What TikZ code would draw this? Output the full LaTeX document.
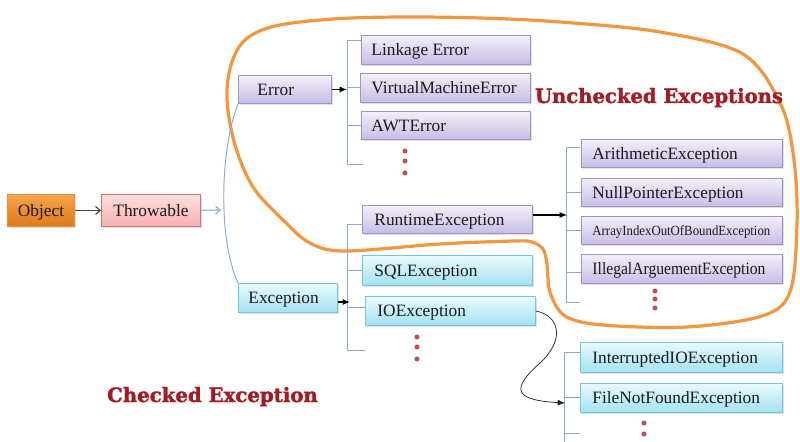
\documentclass[tikz,border=0pt]{standalone}
\usepackage{fontspec}
\setmainfont{Liberation Serif}
\newfontfamily\lblfont[FakeBold=1.6]{DejaVu Serif}
\usepackage{graphicx}
\usetikzlibrary{arrows.meta,shadows}
\newdimen\myu \myu=0.75pt
\newcommand\lt[3]{\hbox to #1\myu{\hskip #2\myu\relax #3\hss}}
\definecolor{ptop}{HTML}{F3EFFA}
\definecolor{pbot}{HTML}{C9BCE6}
\definecolor{pbord}{HTML}{9F92C6}
\definecolor{ctop}{HTML}{E9FAFE}
\definecolor{cbot}{HTML}{A3E2F3}
\definecolor{cbord}{HTML}{78C4DA}
\definecolor{otop}{HTML}{F6A349}
\definecolor{obot}{HTML}{E07A1C}
\definecolor{obord}{HTML}{E59038}
\definecolor{rtop}{HTML}{FFDEDE}
\definecolor{rbot}{HTML}{F8B0B0}
\definecolor{rbord}{HTML}{D27474}
\definecolor{brkc}{HTML}{8CA8CE}
\definecolor{loopc}{HTML}{F2963F}
\definecolor{lblc}{HTML}{A11C24}
\definecolor{dotc}{HTML}{C0504D}
\definecolor{txtc}{HTML}{1A1A1A}
\tikzset{
  base/.style={anchor=north west, inner xsep=0pt, inner ysep=0pt,
    font=\fontsize{13}{15}\selectfont, text=txtc, text height=8.6pt, text depth=0pt,
    line width=0.7pt,
    drop shadow={shadow xshift=0.8pt, shadow yshift=-1.2pt, opacity=0.25}},
  pbox/.style={base, draw=pbord, top color=ptop, bottom color=pbot},
  cbox/.style={base, draw=cbord, top color=ctop, bottom color=cbot},
  obox/.style={base, draw=obord, top color=otop, bottom color=obot},
  rbox/.style={base, draw=rbord, top color=rtop, bottom color=rbot},
  brk/.style={draw=brkc, line width=0.75pt},
  blk/.style={draw=black, line width=0.8pt, -{Latex[length=5.5pt,width=4.5pt]}},
  thinblk/.style={draw=black!85, line width=0.55pt, -{Latex[length=5.5pt,width=4.5pt]}},
  gryarr/.style={draw=black!75, line width=0.8pt, -{Straight Barb[length=3.5pt,width=6pt]}},
  bluarr/.style={draw=brkc, line width=0.8pt, -{Straight Barb[length=3.5pt,width=6pt]}},
  blucurve/.style={draw=brkc, line width=0.7pt},
  loopline/.style={draw=loopc, line width=2.4pt},
  lblnode/.style={inner sep=0pt, text=lblc, anchor=base},
  dotstyle/.style={fill=dotc}
}
\begin{document}
\begin{tikzpicture}[x=0.75pt,y=-0.75pt]
\fill[white] (0,0) rectangle (800,442);
\useasboundingbox (0,0) rectangle (800,442);

% orange loop (unchecked region)
\draw[loopline] plot[smooth cycle, tension=0.55] coordinates {
 (515,241) (440,244) (345,251) (310,243) (283,220) (253,187) (235,145) (227,100)
 (231,65) (245,40) (275,26) (333,19) (400,17) (480,18) (560,22) (660,32) (743,54)
 (781,105) (794,160) (797,225) (790,292) (762,316) (687,327) (603,325) (565,316)
 (550,292) (547,264) (543,249) (532,242)};

% boxes
\node[obox, minimum width=50.25pt, minimum height=24pt] (obj) at (7,194) {Object};
\node[rbox, minimum width=74.25pt, minimum height=24pt] (thr) at (101,194) {Throwable};
\node[pbox, minimum height=21pt] (err) at (238,75) {\lt{93}{19}{Error}};
\node[pbox, minimum height=21.75pt] (link) at (361,35) {\lt{169}{10}{Linkage Error}};
\node[pbox, minimum height=21.75pt] (vm) at (360,73) {\lt{170}{11}{VirtualMachineError}};
\node[pbox, minimum height=21pt] (awt) at (361,111) {\lt{169}{10}{AWTError}};
\node[pbox, minimum height=21pt] (rt) at (362,205) {\lt{170}{12}{RuntimeException}};
\node[cbox, minimum height=21.75pt] (exc) at (238,283) {\lt{99}{10}{Exception}};
\node[cbox, minimum height=22.5pt] (sql) at (362,255) {\lt{170}{12}{SQLException}};
\node[cbox, minimum height=21.75pt] (io) at (365,296) {\lt{170}{12}{IOException}};
\node[pbox, minimum height=21pt] (arith) at (581,139) {\lt{201}{11}{ArithmeticException}};
\node[pbox, minimum height=21pt] (nullp) at (581,178) {\lt{201}{11}{NullPointerException}};
\node[pbox, minimum height=21pt, text height=6.95pt] (arr) at (581,216)
  {\lt{201}{11}{\scalebox{0.915}[1]{\fontsize{10.5}{12}\selectfont ArrayIndexOutOfBoundException}}};
\node[pbox, minimum height=21.75pt] (ill) at (581,254) {\lt{201}{11}{\scalebox{0.9}[1]{IllegalArguementException}}};
\node[cbox, minimum height=22.5pt] (intr) at (580,342) {\lt{202}{12}{InterruptedIOException}};
\node[cbox, minimum height=21.75pt] (fnf) at (580,383) {\lt{202}{12}{FileNotFoundException}};

% bracket coordinates
\coordinate (b1) at (347,41);
\coordinate (b2) at (347,225);
\coordinate (b3) at (566,148);
\coordinate (b4) at (564,352);

% brackets
\draw[brk] (361,41) -- (b1) -- (347,165) -- (363,165);
\draw[brk] (vm.west -| b1) -- (vm.west);
\draw[brk] (awt.west -| b1) -- (awt.west);
\draw[brk] (363,225) -- (b2) -- (347,350) -- (365,350);
\draw[brk] (sql.west -| b2) -- (sql.west);
\draw[brk] (347,307) -- (365,307);
\draw[brk] (580,148) -- (b3) -- (566,302) -- (580,302);
\draw[brk] (nullp.west -| b3) -- (nullp.west);
\draw[brk] (arr.west -| b3) -- (arr.west);
\draw[brk] (566,272) -- (581,272);
\draw[brk] (580,352) -- (b4) -- (564,442);
\draw[brk] (fnf.west -| b4) -- (fnf.west);
\draw[brk] (564,433) -- (580,433);

% connectors
\coordinate (thrtip) at (221,210);
\coordinate (excin) at (350,302);
\coordinate (rtin) at (567,215);
\coordinate (fnfin) at (565,403);
\draw[gryarr] (obj) -- (thr);
\draw[bluarr] (thr) -- (thrtip);
\draw[blucurve] (err.south west) .. controls (220,150) and (218,240) .. (exc.north west);
\draw[blk] (err.east) -- (err.east -| b1);
\draw[blk] (exc.east |- excin) -- (excin);
\draw[blk] (rt.east |- rtin) -- (rtin);
\draw[thinblk] (io.east) .. controls (560,316) and (565,340) .. (540,363)
   .. controls (512,388) and (512,400) .. (fnfin);

% continuation dots
\foreach \yy in {151,161,173} \fill[dotstyle] (405,\yy) circle[radius=1.9pt];
\foreach \yy in {337,347,359} \fill[dotstyle] (417,\yy) circle[radius=1.9pt];
\foreach \yy in {291,299,308} \fill[dotstyle] (655,\yy) circle[radius=1.9pt];
\foreach \yy in {423,434,445} \fill[dotstyle] (644,\yy) circle[radius=1.9pt];

% labels
\node[lblnode] (unch) at (659,103) {\resizebox{186pt}{11.25pt}{\lblfont\bfseries Unchecked Exceptions}};
\node[lblnode] (chk) at (212.5,402) {\resizebox{158pt}{11.25pt}{\lblfont\bfseries Checked Exception}};
\end{tikzpicture}
\end{document}
